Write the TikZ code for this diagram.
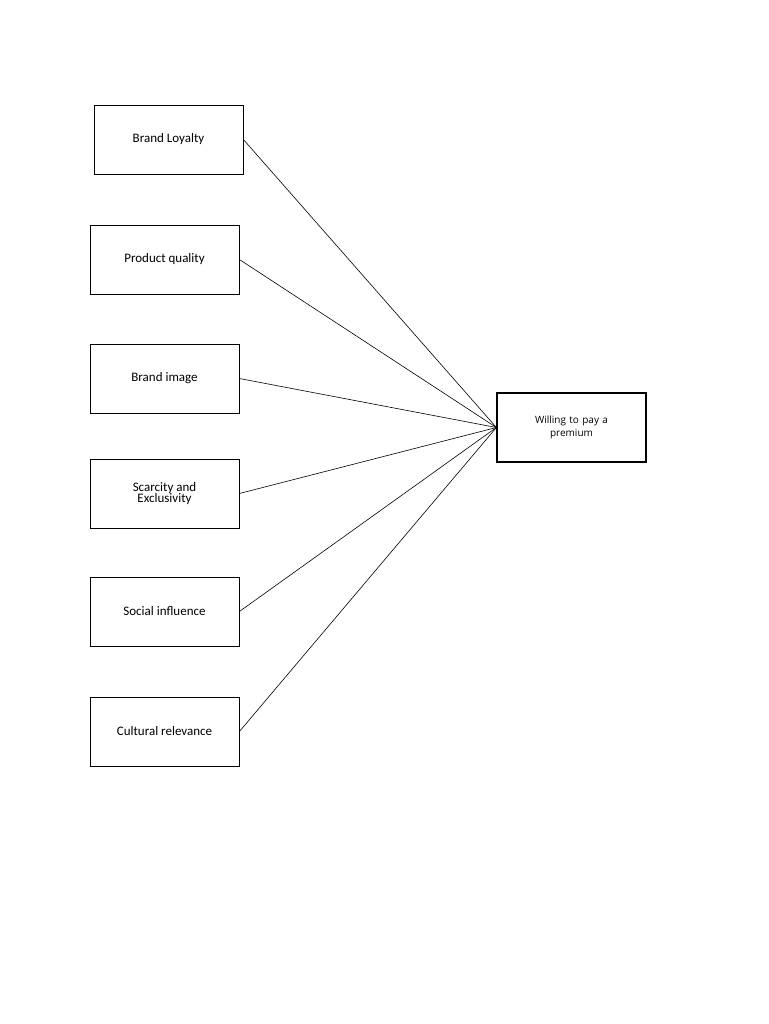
\documentclass[tikz,border=0pt]{standalone}
\usepackage{fontspec}
\setmainfont{Carlito}
\newfontfamily\tgtfont{Open Sans}
\begin{document}
\begin{tikzpicture}[x=1pt,y=-1pt,
  factor/.style={draw,line width=0.8pt,minimum width=149pt,minimum height=69pt,align=center,font=\fontsize{13}{13}\selectfont,inner sep=2pt},
  target/.style={draw,line width=1.2pt,minimum width=149pt,minimum height=69pt,align=center,font=\tgtfont\fontsize{10}{13}\selectfont,text width=110pt},
  link/.style={line width=0.6pt}]
\useasboundingbox (0,0) rectangle (768,1024);
\node[factor] (a) at (168.5,139.5) {Brand Loyalty};
\node[factor] (b) at (164.5,259.5) {Product quality};
\node[factor] (c) at (164.5,378.5) {Brand image};
\node[factor] (d) at (164.5,493.5) {Scarcity and\\[-2pt]Exclusivity};
\node[factor] (e) at (164.5,611.5) {Social influence};
\node[factor] (f) at (164.5,731.5) {Cultural relevance};
\node[target] (t) at (571.5,427.5) {Willing to pay a\\premium};
\foreach \n in {a,b,c,d,e,f} \draw[link] (\n.east) -- (t.west);
\end{tikzpicture}
\end{document}
